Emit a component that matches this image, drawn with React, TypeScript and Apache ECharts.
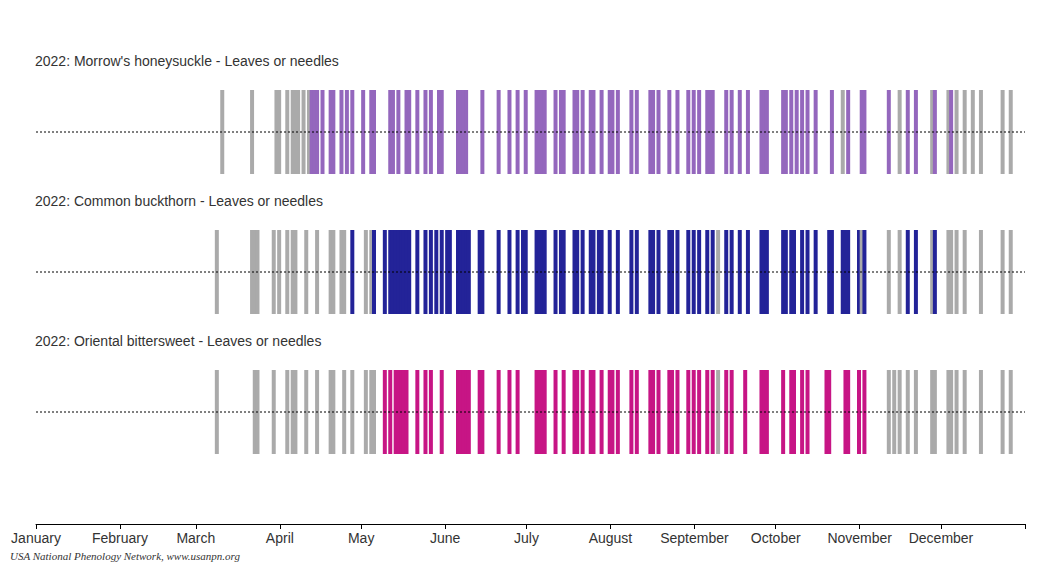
import React, { useEffect, useRef } from 'react';
import * as echarts from 'echarts';

// Calendar axis (day index 0 = Jan 1, 2022)
const YEAR = 2022;
const MONTHS = ['January', 'February', 'March', 'April', 'May', 'June', 'July', 'August', 'September', 'October', 'November', 'December'];
const MONTH_STARTS = [0, 31, 59, 90, 120, 151, 181, 212, 243, 273, 304, 334];
const YEAR_END = 365;

const PHENOPHASE = 'Leaves or needles';
const SPECIES = ["Morrow's honeysuckle", 'Common buckthorn', 'Oriental bittersweet'];
const YES_COLORS = ['#9467bd', '#232398', '#c71585'];
const NO_COLOR = '#aaaaaa';

// Observation days where the phenophase was recorded as present ("yes") or absent ("no")
const honeysuckleYes = [101, 102, 103, 105, 108, 109, 112, 114, 116, 120, 123, 124, 130, 131, 133, 136, 137, 140, 143, 145, 148, 149, 155, 156, 157, 158, 164, 170, 174, 177, 180, 184, 185, 186, 187, 191, 193, 194, 198, 199, 201, 204, 205, 208, 211, 212, 214, 219, 221, 226, 227, 229, 233, 236, 240, 242, 244, 247, 248, 249, 254, 256, 259, 262, 267, 268, 269, 275, 276, 278, 280, 282, 284, 287, 293, 299, 304, 305, 314, 321, 324, 331, 337];
const honeysuckleNo = [68, 79, 88, 89, 92, 94, 95, 96, 98, 100, 297, 318, 330, 336, 339, 342, 345, 348, 356, 359];

const buckthornYes = [116, 124, 128, 130, 131, 132, 133, 134, 135, 136, 137, 140, 143, 145, 147, 149, 151, 152, 155, 156, 157, 158, 159, 163, 164, 170, 174, 177, 179, 180, 184, 185, 186, 187, 191, 193, 194, 198, 199, 201, 204, 205, 207, 208, 211, 214, 219, 221, 226, 227, 229, 233, 234, 236, 240, 242, 244, 247, 249, 254, 256, 259, 262, 267, 268, 269, 275, 276, 278, 279, 282, 284, 287, 292, 293, 297, 298, 299, 303, 305, 321, 324, 331];
const buckthornNo = [66, 79, 80, 81, 87, 89, 92, 94, 95, 99, 103, 108, 109, 112, 113, 121, 123, 251, 304, 314, 318, 330, 336, 337, 339, 342, 348, 356, 359];

const bittersweetYes = [128, 130, 132, 133, 134, 135, 136, 140, 143, 145, 149, 155, 156, 157, 158, 159, 163, 164, 170, 174, 177, 184, 185, 186, 187, 191, 194, 198, 199, 201, 204, 205, 208, 211, 212, 214, 219, 221, 226, 227, 229, 233, 234, 236, 240, 242, 244, 247, 249, 254, 256, 261, 267, 268, 269, 275, 278, 279, 282, 284, 291, 292, 298, 299, 303, 305];
const bittersweetNo = [66, 80, 81, 87, 92, 94, 95, 99, 103, 108, 109, 113, 116, 121, 123, 124, 251, 314, 316, 318, 321, 324, 330, 331, 336, 337, 339, 342, 348, 356, 359];

const ROWS = [
  { yes: honeysuckleYes, no: honeysuckleNo },
  { yes: buckthornYes, no: buckthornNo },
  { yes: bittersweetYes, no: bittersweetNo },
];

// Vertical layout: the y axis runs in pixel-sized units from the axis line upwards
const PLOT_TOP = 90;
const PLOT_HEIGHT = 434;
const ROW_CENTERS = [392, 252, 112];
const ROW_HALF = 42;
const BAR_PX = 4;

function buildData() {
  const out: number[][] = [];
  ROWS.forEach((r, i) => {
    const items: number[][] = [];
    r.no.forEach((d) => items.push([d, ROW_CENTERS[i], i, 0]));
    r.yes.forEach((d) => items.push([d, ROW_CENTERS[i], i, 1]));
    items.sort((a, b) => a[0] - b[0] || a[3] - b[3]);
    out.push(...items);
  });
  return out;
}

export default function App() {
  const ref = useRef<HTMLDivElement>(null);

  useEffect(() => {
    if (!ref.current) return;
    const chart = echarts.init(ref.current, undefined, { renderer: 'svg' });

    const titles = SPECIES.map((name, i) => ({
      text: `${YEAR}: ${name} - ${PHENOPHASE}`,
      left: 35,
      top: 54 + 140 * i,
      padding: 0,
      textStyle: { fontSize: 14, fontWeight: 'normal', color: '#333', fontFamily: 'Liberation Sans, Arial, sans-serif' },
    }));

    const dottedLines = ROW_CENTERS.map((c) => ({
      type: 'line',
      data: [[0, c], [YEAR_END, c]],
      symbol: 'none',
      silent: true,
      z: 5,
      lineStyle: { color: '#000', width: 1, type: [2, 2] },
    }));

    chart.setOption({
      animation: false,
      textStyle: { fontFamily: 'Liberation Sans, Arial, sans-serif' },
      title: titles,
      grid: { left: 36, right: 35, top: PLOT_TOP, height: PLOT_HEIGHT },
      xAxis: {
        type: 'value',
        min: 0,
        max: YEAR_END,
        splitLine: { show: false },
        axisLine: { show: true, lineStyle: { color: '#000', width: 1 } },
        axisTick: {
          show: true,
          length: 5,
          customValues: [...MONTH_STARTS, YEAR_END],
          lineStyle: { color: '#000' },
        },
        axisLabel: {
          customValues: MONTH_STARTS,
          formatter: (v: number) => MONTHS[MONTH_STARTS.indexOf(v)] ?? '',
          color: '#333',
          fontSize: 14,
          margin: 7,
        },
      },
      yAxis: { type: 'value', min: 0, max: PLOT_HEIGHT, show: false },
      graphic: [
        {
          type: 'text',
          left: 10,
          top: 550,
          style: {
            text: 'USA National Phenology Network, www.usanpn.org',
            font: 'italic 11px "Liberation Serif", "Times New Roman", serif',
            fill: '#333',
          },
        },
      ],
      series: [
        {
          type: 'custom',
          silent: true,
          z: 2,
          encode: { x: 0, y: 1 },
          data: buildData(),
          renderItem: (_params: any, api: any) => {
            const day = api.value(0);
            const center = api.value(1);
            const row = api.value(2);
            const yes = api.value(3);
            const top = api.coord([day, center + ROW_HALF]);
            const bottom = api.coord([day, center - ROW_HALF]);
            return {
              type: 'rect',
              shape: { x: top[0], y: top[1], width: BAR_PX, height: bottom[1] - top[1] },
              style: { fill: yes ? YES_COLORS[row] : NO_COLOR },
            };
          },
        },
        ...dottedLines,
      ],
    });

    return () => chart.dispose();
  }, []);

  return <div ref={ref} style={{ position: 'absolute', left: 0, top: 0, width: 1060, height: 569 }} />;
}
